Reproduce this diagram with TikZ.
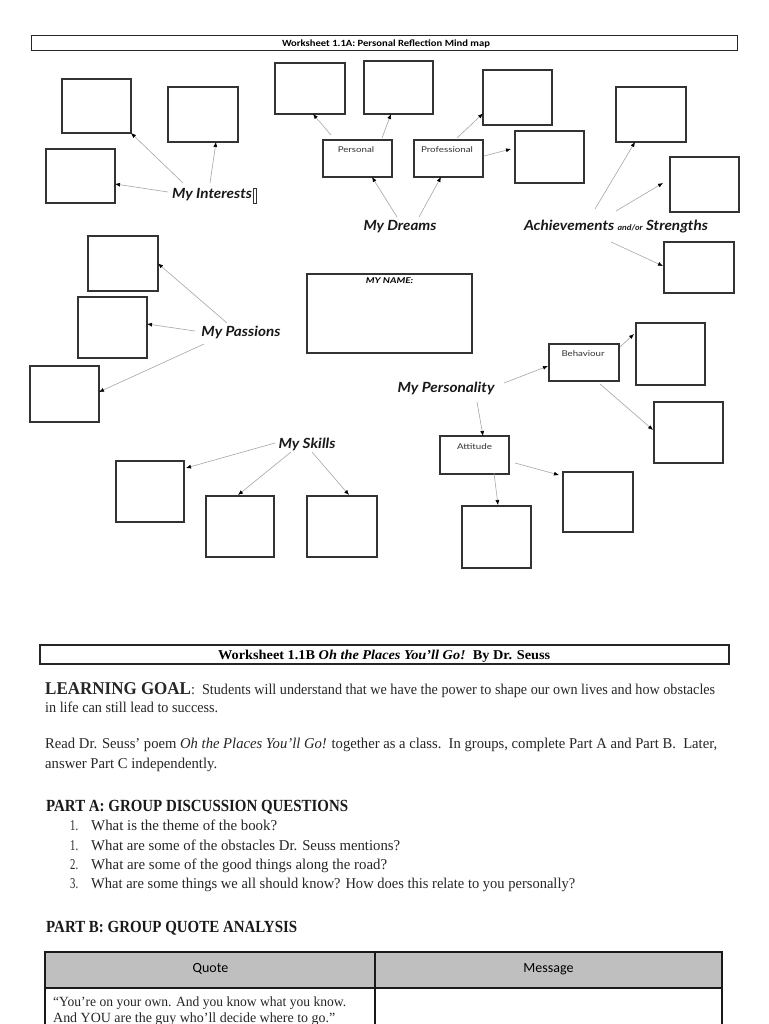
\documentclass[tikz,border=0pt]{standalone}
\usepackage{fontspec}
\usepackage{graphicx}
\setmainfont{Liberation Serif}
\newfontfamily\latofont{Lato}
\newfontfamily\carlfont{Carlito}
\usetikzlibrary{arrows.meta,calc}
\newcommand\fitw[2]{\resizebox{#1pt}{\height}{#2}}
\newcommand\bxn[5]{\node[mbx, minimum width={(#4)-(#2)}, minimum height={(#5)-(#3)}] (#1) at ({((#2)+(#4))/2},{((#3)+(#5))/2}) {};}
\begin{document}
\begin{tikzpicture}[x=1pt,y=-1pt,
  mbx/.style={draw=black!80, line width=1.1pt, inner sep=0pt, outer sep=0pt},
  arr/.style={draw=black!35, line width=0.6pt, -{Latex[length=5pt,width=4pt,color=black]}},
  lbl/.style={inner sep=0pt, font=\latofont\bfseries\itshape\fontsize{14}{16}\selectfont, text=black!90},
  stxt/.style={inner sep=0pt, font=\latofont\fontsize{8}{9}\selectfont, text=black!80},
  txt/.style={inner sep=0pt, anchor=base west, font=\fontsize{15}{17}\selectfont, text=black!85},
  head/.style={inner sep=0pt, anchor=base west, font=\bfseries\fontsize{17}{19}\selectfont, text=black!90},
  hdrbox/.style={draw=black!85, line width=1pt, inner sep=0pt},
]
\useasboundingbox (0,0) rectangle (768,1024);
\fill[white] (0,0) rectangle (768,1024);

% ---------- Worksheet 1.1A header ----------
\node[hdrbox, minimum width=706, minimum height=15] (hdrA) at (384,43.5) {};
\node[inner sep=0pt, font=\carlfont\bfseries\fontsize{9.5}{10}\selectfont] (hdrAt) at (386,43.5) {\fitw{208}{Worksheet 1.1A: Personal Reflection Mind map}};

% ---------- My Interests ----------
\bxn{I1}{62}{79}{131}{133}
\bxn{I2}{168}{87}{238}{142}
\bxn{I3}{46}{149}{115}{203}
\node[lbl] (int) at (212,195) {\fitw{80}{My Interests}};
\draw[line width=0.6pt, black!80] (253.5,188.5) rectangle (256.5,203);
\draw[arr] ($(int)+(-29,-12)$) -- (I1.south east);
\draw[arr] ($(int)+(-2,-12)$) -- ($(I2.south)+(13,0)$);
\draw[arr] ($(int)+(-44,-3)$) -- ($(I3.east)+(0,8)$);

% ---------- My Dreams ----------
\bxn{D1}{275}{63}{345}{114}
\bxn{D2}{364}{61}{433}{114}
\bxn{D3}{483}{70}{552}{125}
\bxn{D4}{515}{131}{584}{183}
\bxn{Per}{323}{140}{392}{177}
\bxn{Pro}{414}{140}{483}{177}
\node[stxt] (Pert) at (356,150) {\fitw{36.5}{Personal}};
\node[stxt] (Prot) at (447,150) {\fitw{52}{Professional}};
\node[lbl] (dr) at (400,227) {\fitw{73}{My Dreams}};
\draw[arr] ($(Per.north)+(-26.5,-5)$) -- ($(D1.south)+(3,0)$);
\draw[arr] ($(Per.north)+(24.5,-2)$) -- ($(D2.south)+(-7.5,0)$);
\draw[arr] ($(Pro.north)+(8.5,-2)$) -- ($(D3.west)+(0,16)$);
\draw[arr] ($(Pro.east)+(1,-2.5)$) -- ($(D4.west)+(-4,-8)$);
\draw[arr] ($(dr)+(-3,-10)$) -- ($(Per.south)+(14.5,0)$);
\draw[arr] ($(dr)+(19,-10)$) -- ($(Pro.south)+(-7.5,0)$);

% ---------- Achievements ----------
\bxn{A1}{616}{87}{686}{142}
\bxn{A2}{670}{157}{739}{212}
\bxn{A3}{664}{242}{734}{293}
\node[lbl] (ach) at (616,227) {\fitw{184}{Achievements {\fontsize{8}{9}\selectfont and/or} Strengths}};
\draw[arr] ($(ach)+(-21,-18)$) -- ($(A1.south)+(-16,0)$);
\draw[arr] ($(ach)+(0,-16)$) -- ($(A2.west)+(-7,-1.5)$);
\draw[arr] ($(ach)+(-5,15)$) -- ($(A3.west)+(-1,-1.5)$);

% ---------- My Passions ----------
\bxn{P1}{88}{236}{158}{291}
\bxn{P2}{78}{297}{147}{358}
\bxn{P3}{30}{366}{99}{422}
\node[lbl] (pas) at (241,332) {\fitw{79}{My Passions}};
\draw[arr] ($(pas)+(-14,-9)$) -- (P1.east);
\draw[arr] ($(pas)+(-46,-1)$) -- ($(P2.east)+(0,-3.5)$);
\draw[arr] ($(pas)+(-37,12)$) -- ($(P3.east)+(0,-2)$);

% ---------- My Name ----------
\bxn{name}{307}{274}{472}{353}
\node[inner sep=0pt, font=\latofont\bfseries\itshape\fontsize{8}{9}\selectfont] (namet) at (389.5,281) {\fitw{47.5}{MY NAME:}};

% ---------- My Personality ----------
\bxn{Beh}{549}{344}{619}{381}
\bxn{B1}{636}{323}{705}{385}
\bxn{B2}{654}{402}{723}{463}
\bxn{Att}{440}{436}{509}{474}
\bxn{T1}{563}{472}{633}{532}
\bxn{T2}{462}{506}{531}{568}
\node[stxt] (Beht) at (583,354) {\fitw{43}{Behaviour}};
\node[stxt] (Attt) at (474.5,447) {\fitw{35}{Attitude}};
\node[lbl] (pers) at (446,388) {\fitw{97}{My Personality}};
\draw[arr] ($(pers)+(58,-5)$) -- ($(Beh.west)+(-1,3.5)$);
\draw[arr] ($(Beh.north east)+(1,3)$) -- ($(B1.west)+(-2,-20)$);
\draw[arr] ($(Beh.south)+(16,3)$) -- ($(B2.west)+(-1,-2.5)$);
\draw[arr] ($(pers)+(31,14)$) -- ($(Att.north)+(8.5,0)$);
\draw[arr] ($(Att.east)+(6,8)$) -- ($(T1.north west)+(-4,3)$);
\draw[arr] ($(Att.south)+(19.5,-1)$) -- ($(T2.north)+(1.5,-1)$);

% ---------- My Skills ----------
\bxn{S1}{116}{461}{184}{522}
\bxn{S2}{206}{496}{274}{557}
\bxn{S3}{307}{496}{377}{557}
\node[lbl] (sk) at (307,444) {\fitw{57}{My Skills}};
\draw[arr] ($(sk)+(-32,-1)$) -- ($(S1.north east)+(2,7)$);
\draw[arr] ($(sk)+(-16,8)$) -- ($(S2.north)+(-2,-1)$);
\draw[arr] ($(sk)+(5,8)$) -- ($(S3.north)+(7,-1)$);

% ---------- Worksheet 1.1B ----------
\node[hdrbox, line width=1.2pt, minimum width=689, minimum height=19] (hdrB) at (384.5,654.5) {};
\node[inner sep=0pt, anchor=base west, font=\bfseries\fontsize{13.5}{15}\selectfont] (hdrBt) at (218,659) {\fitw{332}{Worksheet 1.1B \textit{Oh the Places You'll Go!}\ \ By Dr. Seuss}};

\node[txt] (lg1) at (45,694) {\fitw{670}{{\bfseries\fontsize{18}{20}\selectfont LEARNING GOAL}:\ \ Students will understand that we have the power to shape our own lives and how obstacles}};
\node[txt] (lg2) at (45,712) {\fitw{173}{in life can still lead to success.}};
\node[txt] (rd1) at (45,748) {\fitw{672}{Read Dr. Seuss' poem \textit{Oh the Places You'll Go!} together as a class.\ \ In groups, complete Part A and Part B.\ \ Later,}};
\node[txt] (rd2) at (45,768) {\fitw{172}{answer Part C independently.}};

\node[head] (pa) at (46,811) {\fitw{302}{PART A: GROUP DISCUSSION QUESTIONS}};
\node[txt] (n1) at (70,830) {\fitw{8}{1.}};
\node[txt] (q1) at (91,830) {\fitw{186}{What is the theme of the book?}};
\node[txt] (n2) at (70,850) {\fitw{8}{1.}};
\node[txt] (q2) at (91,850) {\fitw{309}{What are some of the obstacles Dr. Seuss mentions?}};
\node[txt] (n3) at (70,869) {\fitw{8}{2.}};
\node[txt] (q3) at (91,869) {\fitw{296}{What are some of the good things along the road?}};
\node[txt] (n4) at (70,888) {\fitw{8}{3.}};
\node[txt] (q4) at (91,888) {\fitw{484}{What are some things we all should know? How does this relate to you personally?}};

\node[head] (pb) at (46,932) {\fitw{251}{PART B: GROUP QUOTE ANALYSIS}};

% ---------- Table ----------
\fill[gray!50] (45,952) rectangle (722,987);
\draw[line width=1.3pt, black!90] (45,1024) -- (45,952) -- (722,952) -- (722,1024);
\draw[line width=2.6pt, black!90] (45,988) -- (722,988);
\draw[line width=1.3pt, black!90] (375,952) -- (375,1024);
\node[inner sep=0pt, font=\carlfont\fontsize{14}{16}\selectfont] (qh) at (210.5,969) {Quote};
\node[inner sep=0pt, font=\carlfont\fontsize{14}{16}\selectfont] (mh) at (548.5,969) {Message};
\node[txt, font=\fontsize{14}{16}\selectfont] (qt1) at (53,1006) {\fitw{293}{``You're on your own. And you know what you know.}};
\node[txt, font=\fontsize{14}{16}\selectfont] (qt2) at (53,1022) {\fitw{282}{And YOU are the guy who'll decide where to go.''}};
\end{tikzpicture}
\end{document}
